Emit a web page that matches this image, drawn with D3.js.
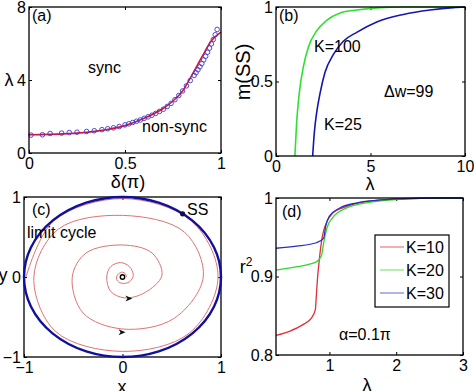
<!DOCTYPE html>
<meta charset="utf-8">
<title>Sync panels</title>
<style>
    body { margin: 0; background: #fff; }
    svg { display: block; font-family: "Liberation Sans", Arial, sans-serif; }
    .box { fill: none; stroke: #000; stroke-width: 1.3px; }
    .lbl { font-size: 16px; fill: #000; }
    .big { font-size: 18px; fill: #000; }
</style>
<body>
<svg id="fig" width="474" height="391"></svg>
<script src="https://d3js.org/d3.v7.min.js"></script>
<script>
// ---- panel (a): lambda vs delta ----
var aLineDelta = [0, 0.1, 0.2, 0.3, 0.4, 0.5, 0.6, 0.65, 0.7, 0.75, 0.8, 0.85, 0.9, 0.95, 1.0];
var aLineLambda = [1.0, 1.02, 1.06, 1.13, 1.27, 1.5, 1.9, 2.15, 2.45, 2.85, 3.4, 4.3, 5.25, 6.15, 6.62];
var aDotDelta = [0.01, 0.07, 0.11, 0.17, 0.21, 0.25, 0.30, 0.34, 0.38, 0.41, 0.44, 0.47, 0.50, 0.52, 0.54,
    0.56, 0.58, 0.60, 0.62, 0.64, 0.66, 0.68, 0.70, 0.72, 0.74, 0.76, 0.78, 0.80, 0.82, 0.84, 0.86, 0.87,
    0.88, 0.89, 0.90, 0.91, 0.92, 0.93, 0.94, 0.95, 0.96, 0.97, 0.98];
var aDotLambda = [0.98, 1.0, 1.07, 1.09, 1.12, 1.14, 1.18, 1.22, 1.28, 1.33, 1.38, 1.45, 1.54, 1.6, 1.67,
    1.74, 1.81, 1.9, 1.98, 2.07, 2.17, 2.28, 2.4, 2.55, 2.72, 2.92, 3.15, 3.4, 3.68, 3.97, 4.25, 4.4,
    4.56, 4.72, 4.9, 5.1, 5.3, 5.52, 5.75, 5.98, 6.22, 6.48, 6.77];
var aXTicks = [0, 0.5, 1], aYTicks = [0, 4, 8];

// ---- panel (b): m(SS) vs lambda ----
var bLamK100 = [1.0, 1.09, 1.23, 1.45, 1.71, 2.15, 2.68, 3.39, 4.27, 5.5, 6.7, 10];
var bMK100 = [0, 0.22, 0.42, 0.6, 0.73, 0.84, 0.91, 0.96, 0.98, 0.996, 1.0, 1.0];
var bLamK25 = [1.94, 2.03, 2.15, 2.33, 2.59, 3.03, 3.56, 4.27, 5.33, 6.74, 8.15, 9.38, 10];
var bMK25 = [0, 0.16, 0.29, 0.42, 0.56, 0.68, 0.77, 0.83, 0.9, 0.95, 0.98, 0.996, 1.0];
var bXTicks = [0, 5, 10], bYTicks = [0, 0.5, 1];

// ---- panel (c): phase plane ----
var cSpiralX = [0.04, 0.03, 0.0, -0.04, -0.06, -0.05, 0.0, 0.07,
    0.11, 0.07, -0.02, -0.12, -0.16, -0.12, 0.02, 0.22,
    0.40, 0.30, 0.0, -0.37, -0.51, -0.40, 0.0, 0.52,
    0.82, 0.63, 0.0, -0.65, -0.90, -0.68, 0.0, 0.68,
    0.97, 0.70, 0.0, -0.70, -0.98];
var cSpiralY = [0.0, 0.04, 0.06, 0.04, 0.0, -0.05, -0.08, -0.06,
    0.02, 0.13, 0.18, 0.13, 0.0, -0.18, -0.26, -0.20,
    0.02, 0.30, 0.40, 0.30, 0.0, -0.45, -0.65, -0.52,
    0.0, 0.56, 0.77, 0.60, 0.0, -0.68, -0.93, -0.70,
    0.0, 0.70, 0.98, 0.70, 0.0];
var cLimitRadius = 1;
var cSS = [0.61, 0.79];
var cArrowX = [0.06, -0.01], cArrowY = [-0.27, -0.69];
var cXTicks = [-1, 0, 1], cYTicks = [-1, 0, 1];

// ---- panel (d): r^2 vs lambda ----
var dLam10 = [0.2, 0.41, 0.61, 0.73, 0.79, 0.80, 0.82, 0.854, 0.894, 0.953, 1.05, 1.25, 1.6, 1.99, 2.34, 3.0];
var dR10 = [0.825, 0.8305, 0.839, 0.847, 0.858, 0.87, 0.896, 0.926, 0.951, 0.968, 0.981, 0.989, 0.996, 0.9987, 0.9998, 1.0];
var dLam20 = [0.2, 0.41, 0.61, 0.81, 0.879, 0.914, 0.963, 1.05, 1.25, 1.6, 1.99, 2.39, 3.0];
var dR20 = [0.908, 0.911, 0.914, 0.919, 0.926, 0.943, 0.962, 0.975, 0.987, 0.9945, 0.998, 0.9996, 1.0];
var dLam30 = [0.2, 0.507, 0.805, 0.914, 0.943, 1.0, 1.15, 1.4, 1.7, 2.09, 2.59, 3.0];
var dR30 = [0.936, 0.9386, 0.943, 0.949, 0.964, 0.977, 0.987, 0.9936, 0.997, 0.999, 1.0, 1.0];
var dNames = ["K=10", "K=20", "K=30"];
var dXTicks = [1, 2, 3], dYTicks = [0.8, 0.9, 1];

var svg = d3.select("#fig");

function zip(xs, ys) {
    return xs.map(function (v, i) { return [v, ys[i]]; });
}

// draws box + inward MATLAB-like ticks on all four sides
function makePanel(box, xDom, yDom, xTicks, yTicks, xFmt, yFmt) {
    var w = box.x1 - box.x0, h = box.y1 - box.y0;
    var g = svg.append("g").attr("transform", "translate(" + box.x0 + "," + box.y0 + ")");
    var x = d3.scaleLinear().domain(xDom).range([0, w]);
    var y = d3.scaleLinear().domain(yDom).range([h, 0]);

    function style(sel) {
        sel.attr("font-size", 16).attr("font-family", "Liberation Sans, Arial, sans-serif");
        sel.select(".domain").remove();
        sel.selectAll(".tick line").attr("stroke", "#000");
    }
    g.append("g").attr("transform", "translate(0," + h + ")")
        .call(d3.axisBottom(x).tickValues(xTicks).tickSizeInner(-3).tickSizeOuter(0).tickPadding(5).tickFormat(xFmt))
        .call(style);
    g.append("g")
        .call(d3.axisTop(x).tickValues(xTicks).tickSizeInner(-3).tickSizeOuter(0).tickFormat(""))
        .call(style);
    g.append("g")
        .call(d3.axisLeft(y).tickValues(yTicks).tickSizeInner(-3).tickSizeOuter(0).tickPadding(3).tickFormat(yFmt))
        .call(style);
    g.append("g").attr("transform", "translate(" + w + ",0)")
        .call(d3.axisRight(y).tickValues(yTicks).tickSizeInner(-3).tickSizeOuter(0).tickFormat(""))
        .call(style);
    g.append("rect").attr("class", "box").attr("width", w).attr("height", h);
    return { g: g, x: x, y: y, w: w, h: h };
}

function text(x, y, s, cls, anchor) {
    return svg.append("text").attr("class", cls || "lbl").attr("x", x).attr("y", y)
        .attr("text-anchor", anchor || "start").text(s);
}

var fmt = d3.format("");

// ===== (a) =====
var pa = makePanel({ x0: 29, y0: 7, x1: 221, y1: 153 }, [0, 1], [0, 8], aXTicks, aYTicks, fmt, fmt);
var lineA = d3.line().x(function (d) { return pa.x(d[0]); }).y(function (d) { return pa.y(d[1]); })
    .curve(d3.curveMonotoneX);
pa.g.insert("path", "rect").datum(zip(aLineDelta, aLineLambda))
    .attr("d", lineA).attr("fill", "none").attr("stroke", "#d8123c").attr("stroke-width", 1.6);
pa.g.insert("g", "rect").selectAll("circle").data(zip(aDotDelta, aDotLambda)).join("circle")
    .attr("cx", function (d) { return pa.x(d[0]); })
    .attr("cy", function (d) { return pa.y(d[1]); })
    .attr("r", 2.3).attr("fill", "none").attr("stroke", "#3a3acc").attr("stroke-width", 0.9);
text(32, 21, "(a)");
text(88, 73, "sync");
text(142, 132, "non-sync");
text(9, 86, "λ", "big", "middle");
text(128, 188, "δ(π)", "big", "middle");

// ===== (b) =====
var pb = makePanel({ x0: 276, y0: 7, x1: 465, y1: 156 }, [0, 10], [0, 1], bXTicks, bYTicks, fmt, fmt);
var lineB = d3.line().x(function (d) { return pb.x(d[0]); }).y(function (d) { return pb.y(d[1]); })
    .curve(d3.curveMonotoneX);
pb.g.insert("path", "rect").datum(zip(bLamK100, bMK100))
    .attr("d", lineB).attr("fill", "none").attr("stroke", "#2fe02f").attr("stroke-width", 1.6);
pb.g.insert("path", "rect").datum(zip(bLamK25, bMK25))
    .attr("d", lineB).attr("fill", "none").attr("stroke", "#1616b4").attr("stroke-width", 1.6);
text(279, 21, "(b)");
text(314, 52, "K=100");
text(384, 97, "Δw=99");
text(324, 130, "K=25");
text(370, 190, "λ", "big", "middle");
svg.append("text").attr("class", "big").attr("text-anchor", "middle").attr("font-size", 20)
    .style("font-size", "20px")
    .attr("transform", "translate(250,72) rotate(-90)").text("m(SS)");

// ===== (c) =====
var pc = makePanel({ x0: 24, y0: 197, x1: 221, y1: 357 }, [-1, 1], [-1, 1], cXTicks, cYTicks, fmt, fmt);
var lineC = d3.line().x(function (d) { return pc.x(d[0]); }).y(function (d) { return pc.y(d[1]); })
    .curve(d3.curveCatmullRom.alpha(0.5));
pc.g.insert("path", "rect").datum(zip(cSpiralX, cSpiralY))
    .attr("d", lineC).attr("fill", "none").attr("stroke", "#e07272").attr("stroke-width", 1);
pc.g.append("ellipse")
    .attr("cx", pc.x(0)).attr("cy", pc.y(0))
    .attr("rx", pc.x(cLimitRadius) - pc.x(0)).attr("ry", pc.y(0) - pc.y(cLimitRadius))
    .attr("fill", "none").attr("stroke", "#10109e").attr("stroke-width", 2.4);
pc.g.append("circle").attr("cx", pc.x(0)).attr("cy", pc.y(0)).attr("r", 2.2)
    .attr("fill", "none").attr("stroke", "#000").attr("stroke-width", 1.4);
pc.g.append("circle").attr("cx", pc.x(cSS[0])).attr("cy", pc.y(cSS[1])).attr("r", 2.6)
    .attr("fill", "#10104a");
pc.g.selectAll("path.arrow").data(zip(cArrowX, cArrowY)).join("path")
    .attr("class", "arrow")
    .attr("transform", function (d) { return "translate(" + pc.x(d[0]) + "," + pc.y(d[1]) + ")"; })
    .attr("d", "M4,0L-3,-3L-1,0L-3,3Z").attr("fill", "#111");
text(32, 215, "(c)");
text(27, 238, "limit cycle");
text(187, 215, "SS");
text(3, 281, "y", "big", "middle");
text(122, 393, "x", "big", "middle");

// ===== (d) =====
var pd = makePanel({ x0: 276, y0: 198, x1: 463, y1: 355 }, [0.2, 3], [0.8, 1], dXTicks, dYTicks, fmt, fmt);
var lineD = d3.line().x(function (d) { return pd.x(d[0]); }).y(function (d) { return pd.y(d[1]); })
    .curve(d3.curveMonotoneX);
var dCols = ["#e0303a", "#2ed82e", "#2c2cc4"];
var dSeries = [zip(dLam10, dR10), zip(dLam20, dR20), zip(dLam30, dR30)];
dSeries.forEach(function (s, i) {
    pd.g.insert("path", "rect").datum(s)
        .attr("d", lineD).attr("fill", "none").attr("stroke", dCols[i]).attr("stroke-width", 1.3);
});
// legend
var lg = svg.append("g").attr("transform", "translate(375,235)");
lg.append("rect").attr("width", 74).attr("height", 72).attr("fill", "#fff")
    .attr("stroke", "#000").attr("stroke-width", 1.2);
var legendCols = ["#f08080", "#8ae88a", "#8a8ae0"];
dNames.forEach(function (n, i) {
    var ly = 12 + i * 23;
    lg.append("line").attr("x1", 5).attr("x2", 29).attr("y1", ly).attr("y2", ly)
        .attr("stroke", legendCols[i]).attr("stroke-width", 1.3);
    lg.append("text").attr("class", "lbl").attr("x", 31).attr("y", ly + 5.5).text(n);
});
text(282, 217, "(d)");
text(339, 340, "α=0.1π");
var r2 = text(246, 273, "r", "big", "middle");
r2.append("tspan").attr("dy", -7).attr("font-size", 12).text("2");
text(367, 391, "λ", "big", "middle");
</script>
</body>
